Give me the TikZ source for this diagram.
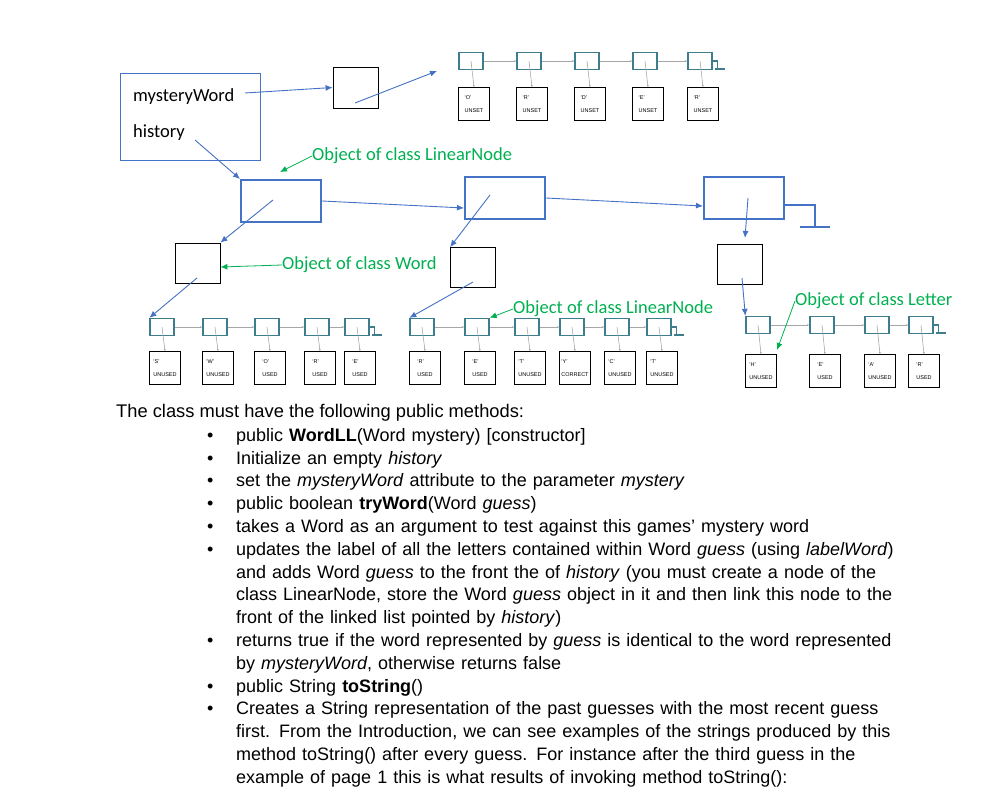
\documentclass[tikz,border=0pt]{standalone}
\usepackage{fontspec}
\setmainfont{Liberation Sans}
\newfontfamily\calfont{Carlito}
\usetikzlibrary{arrows.meta}
\definecolor{bl}{HTML}{4472C4}
\definecolor{gr}{HTML}{00B050}
\definecolor{tealc}{HTML}{3E7E8C}
\newcommand{\mklist}[4]{%
 \foreach \x/\l/\s [count=\i] in {#2} {
  \node[sn] (#1n\i) at (\x,#3) {};
  \node[lb] (#1b\i) at (\x+3,#4) {`\l'\\[6pt]\s};
  \draw[tl] (#1n\i.center) -- (#1b\i.north);
 }}
\newcommand{\bitem}[1]{\hangindent=29pt\hangafter=1\noindent\makebox[29pt][l]{\textbullet}#1\par}
\begin{document}
\begin{tikzpicture}[x=1pt,y=-1pt,
 ptr/.style={-{Latex[length=7pt,width=6pt]},bl,line width=0.9pt},
 gptr/.style={-{Latex[length=7pt,width=6pt]},gr,line width=0.8pt},
 lnode/.style={draw=bl,line width=2pt,minimum width=80pt,minimum height=42pt,inner sep=0},
 wbox/.style={draw,line width=0.8pt,minimum width=45pt,minimum height=40pt,inner sep=0},
 sn/.style={draw=tealc,line width=1.3pt,minimum width=24pt,minimum height=17pt,inner sep=0},
 lb/.style={draw,line width=0.7pt,minimum width=31pt,minimum height=33pt,inner sep=0,font=\fontsize{5.5}{6.5}\selectfont,align=left},
 tl/.style={gray!70,line width=0.6pt,-{Latex[length=2pt,width=2pt]}},
 glab/.style={gr,font=\calfont\fontsize{18.5}{20}\selectfont,anchor=west,inner sep=0},
 txt/.style={anchor=north west,inner sep=0,font=\fontsize{18}{22.8}\selectfont,align=left}]
\useasboundingbox (0,0) rectangle (988,799);
% top-left box
\node[draw=bl,line width=0.9pt,minimum width=140pt,minimum height=87pt,inner sep=0] (obj) at (190,116.5) {};
\node[anchor=west,inner sep=0,font=\calfont\fontsize{18.5}{20}\selectfont] (mw) at (133,97) {mysteryWord};
\node[anchor=west,inner sep=0,font=\calfont\fontsize{18.5}{20}\selectfont] (hi) at (133,133) {history};
\node[draw,line width=0.8pt,minimum width=45pt,minimum height=41pt,inner sep=0] (mb) at (355.5,87.5) {};
\coordinate (mw1) at (245,93);
\draw[ptr] (mw1) -- (mb.west);
\coordinate (mbi) at (355,103); \coordinate (tl0) at (437,71);
\draw[ptr] (mbi) -- (tl0);
% top list
\mklist{t}{471/O/UNSET,529/R/UNSET,587/D/UNSET,645/E/UNSET,700/R/UNSET}{61}{104}
\foreach \a/\b in {1/2,2/3,3/4,4/5} \draw[tl] (tn\a.east) -- (tn\b.west);
\draw[tealc,line width=1.3pt] (tn5.east) -- ++(5,0) -- ++(0,8) ++(-3,0) -- ++(10,0);
% linear nodes
\node[lnode] (L1) at (281,201) {};
\node[lnode] (L2) at (505,198) {};
\node[lnode] (L3) at (744,198) {};
\draw[ptr] (L1.east) -- (L2.west|-0,208);
\draw[ptr] (L2.east) -- (L3.west|-0,206);
\draw[bl,line width=1.2pt] (L3.east|-0,205) -- (815,205) -- (815,227) (800,227) -- (830,227);
\coordinate (hs) at (195,140);
\draw[ptr] (hs) -- (L1.north west);
\node[glab] (g1) at (312,156) {Object of class LinearNode};
\draw[gptr] (g1.west) -- (280,172);
% word boxes
\node[wbox] (W1) at (197.5,263) {};
\node[wbox] (W2) at (473,267.5) {};
\node[wbox] (W3) at (739.5,264) {};
\coordinate (l1i) at (273,200); \coordinate (l2i) at (490,195); \coordinate (l3i) at (748,198);
\draw[ptr] (l1i) -- (W1.north east);
\draw[ptr] (l2i) -- (W2.north west);
\draw[ptr] (l3i) -- (745,238);
\node[glab] (g2) at (282,265) {Object of class Word};
\draw[gptr] (g2.west) -- (W1.east|-0,267);
% row lists
\mklist{a}{162/S/UNUSED,215/W/UNUSED,267/O/USED,317/R/USED,357/E/USED}{327}{368}
\foreach \a/\b in {1/2,2/3,3/4,4/5} \draw[tl] (an\a.east) -- (an\b.west);
\draw[tealc,line width=1.3pt] (an5.east) -- ++(5,0) -- ++(0,8) ++(-3,0) -- ++(10,0);
\mklist{b}{422/R/USED,477/E/USED,527/T/UNUSED,572/Y/CORRECT,617/C/UNUSED,659/T/UNUSED}{327}{368}
\foreach \a/\b in {1/2,2/3,3/4,4/5,5/6} \draw[tl] (bn\a.east) -- (bn\b.west);
\draw[tealc,line width=1.3pt] (bn6.east) -- ++(5,0) -- ++(0,8) ++(-3,0) -- ++(10,0);
\mklist{c}{758/H/UNUSED,822/E/USED,877/A/UNUSED,921/R/USED}{325}{371}
\foreach \a/\b in {1/2,2/3,3/4} \draw[tl] (cn\a.east) -- (cn\b.west);
\draw[tealc,line width=1.3pt] (cn4.east) -- ++(5,0) -- ++(0,8) ++(-3,0) -- ++(10,0);
\coordinate (w1i) at (197,278); \coordinate (w2i) at (473,282); \coordinate (w3i) at (742,278);
\draw[ptr] (w1i) -- (an1.north west);
\draw[ptr] (w2i) -- (bn1.north west);
\draw[ptr] (w3i) -- (cn1.north west);
\node[glab] (g3) at (513,309) {Object of class LinearNode};
\draw[gptr] (g3.west) -- (bn2.north east);
\node[glab] (g4) at (795,301) {Object of class Letter};
\draw[gptr] (g4.west) -- (777,350);
% text
\node[txt,font=\fontsize{18.3}{23}\selectfont] (t0) at (116,404) {The class must have the following public methods:};
\node[txt,text width=740pt] (t1) at (207,428) {%
\setlength{\parskip}{0pt}\raggedright
\bitem{public \textbf{WordLL}(Word mystery) [constructor]}
\bitem{Initialize an empty \textit{history}}
\bitem{set the \textit{mysteryWord} attribute to the parameter \textit{mystery}}
\bitem{public boolean \textbf{tryWord}(Word \textit{guess})}
\bitem{takes a Word as an argument to test against this games’ mystery word}
\bitem{updates the label of all the letters contained within Word \textit{guess} (using \textit{labelWord})\newline and adds Word \textit{guess} to the front the of \textit{history} (you must create a node of the\newline class LinearNode, store the Word \textit{guess} object in it and then link this node to the\newline front of the linked list pointed by \textit{history})}
\bitem{returns true if the word represented by \textit{guess} is identical to the word represented\newline by \textit{mysteryWord}, otherwise returns false}
\bitem{public String \textbf{toString}()}
\bitem{Creates a String representation of the past guesses with the most recent guess\newline first. From the Introduction, we can see examples of the strings produced by this\newline method toString() after every guess. For instance after the third guess in the\newline example of page 1 this is what results of invoking method toString():}
};
\end{tikzpicture}
\end{document}
